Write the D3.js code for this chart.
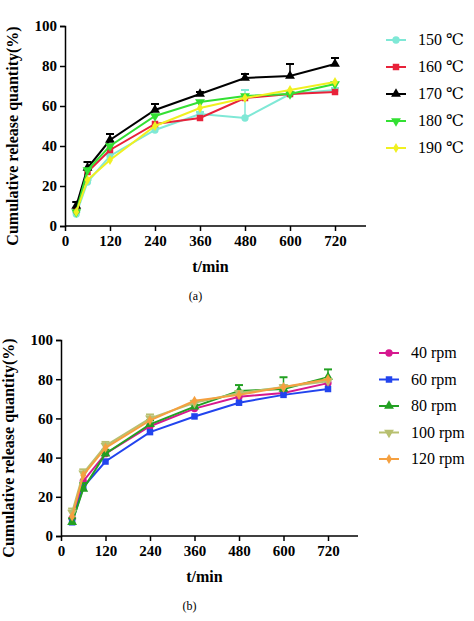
<!DOCTYPE html>
<html lang="en">
<head>
<meta charset="UTF-8">
<script src="https://d3js.org/d3.v7.min.js"></script>
<style>
  body { margin: 0; background: #fff; }
  svg, svg text { font-family: 'Liberation Serif', 'DejaVu Serif', serif !important; }
  .tick text { font-size: 15px; font-weight: bold; }
  .axis path, .axis line { stroke: #000; stroke-width: 1.5; }
</style>
</head>
<body>
<svg id="chart" width="474" height="621"></svg>
<script>
const times = [30, 60, 120, 240, 360, 480, 600, 720];
const xTicks = [0, 120, 240, 360, 480, 600, 720];
const yTicks = [0, 20, 40, 60, 80, 100];

const tempNames = ["150 ℃", "160 ℃", "170 ℃", "180 ℃", "190 ℃"];
const tempColors = ["#7fe8d6", "#e8223a", "#000000", "#33e033", "#f0f020"];
const tempShapes = ["circle", "square", "triangle", "down", "diamond"];
const temp150 = [6, 22, 35, 48, 56, 54, 66, 68];
const temp160 = [8, 27, 38, 51, 54, 64, 66, 67];
const temp170 = [10, 29, 43, 58, 66, 74, 75, 81];
const temp180 = [7, 28, 40, 55, 62, 65, 66, 71];
const temp190 = [7, 23, 33, 50, 59, 64, 68, 72];
const err150 = [1, 1, 1, 1, 1, 14, 1, 1];
const err170 = [2, 3, 3, 3, 1, 2, 6, 3];

const rpmNames = ["40 rpm", "60 rpm", "80 rpm", "100 rpm", "120 rpm"];
const rpmColors = ["#d6188f", "#2244ee", "#22a022", "#b8c070", "#f5a040"];
const rpmShapes = ["circle", "square", "triangle", "down", "diamond"];
const rpm40 = [9, 28, 42, 56, 65, 71, 73, 78];
const rpm60 = [7, 25, 38, 53, 61, 68, 72, 75];
const rpm80 = [7, 24, 42, 57, 66, 74, 75, 81];
const rpm100 = [12, 32, 46, 60, 68, 73, 76, 79];
const rpm120 = [10, 31, 45, 59, 69, 72, 76, 80];
const err80 = [2, 3, 2, 2, 1, 3, 6, 4];
const err100 = [2, 2, 2, 2, 1, 1, 1, 1];

const svg = d3.select("#chart");
const symType = { circle: d3.symbolCircle, square: d3.symbolSquare, triangle: d3.symbolTriangle, down: d3.symbolTriangle, diamond: d3.symbolDiamond };

function marker(g, shape, color, x, y) {
  g.append("path")
    .attr("d", d3.symbol().type(symType[shape]).size(shape === "diamond" ? 30 : 42)())
    .attr("transform", `translate(${x},${y})` + (shape === "down" ? " rotate(180)" : ""))
    .attr("fill", color);
}

function panel(opt) {
  const x = d3.scaleLinear().domain([0, 720]).range([opt.x0, opt.x720]);
  const y = d3.scaleLinear().domain([0, 100]).range([opt.y0, opt.y100]);
  const g = svg.append("g");

  g.append("g").attr("class", "axis").attr("transform", `translate(0,${opt.y0})`)
    .call(d3.axisBottom(x).tickValues(xTicks).tickSizeOuter(0).tickSize(5).tickPadding(4));
  g.select(".axis path").attr("d", `M${opt.x0},0H${opt.xEnd}`);
  g.append("g").attr("class", "axis").attr("transform", `translate(${opt.x0},0)`)
    .call(d3.axisLeft(y).tickValues(yTicks).tickSizeOuter(0).tickSize(5).tickPadding(3));

  g.append("text").attr("x", (opt.x0 + opt.xEnd) / 2 - 5).attr("y", opt.y0 + 46)
    .attr("text-anchor", "middle").attr("font-size", 16).attr("font-weight", "bold").text("t/min");
  g.append("text").attr("transform", `translate(${opt.x0 - 47},${(opt.y0 + opt.y100) / 2 + 10}) rotate(-90)`)
    .attr("text-anchor", "middle").attr("font-size", 16).attr("font-weight", "bold")
    .text("Cumulative release quantity(%)");
  g.append("text").attr("x", (opt.x0 + opt.xEnd) / 2 - 20).attr("y", opt.capY)
    .attr("text-anchor", "middle").attr("font-size", 12).text(opt.caption);

  const line = d3.line().x((d, i) => x(times[i])).y(d => y(d));
  opt.series.forEach((s, k) => {
    if (opt.errors[k]) {
      opt.errors[k].forEach((e, i) => {
        const px = x(times[i]), top = y(s[i] + e);
        g.append("line").attr("x1", px).attr("x2", px).attr("y1", y(s[i])).attr("y2", top)
          .attr("stroke", opt.colors[k]).attr("stroke-width", 1.5);
        g.append("line").attr("x1", px - 4).attr("x2", px + 4).attr("y1", top).attr("y2", top)
          .attr("stroke", opt.colors[k]).attr("stroke-width", 2);
      });
    }
    g.append("path").datum(s).attr("d", line).attr("fill", "none")
      .attr("stroke", opt.colors[k]).attr("stroke-width", 2);
    s.forEach((v, i) => marker(g, opt.shapes[k], opt.colors[k], x(times[i]), y(v)));

    const ly = opt.legY + k * opt.legStep;
    g.append("line").attr("x1", opt.legX).attr("x2", opt.legX + 20).attr("y1", ly).attr("y2", ly)
      .attr("stroke", opt.colors[k]).attr("stroke-width", 2);
    marker(g, opt.shapes[k], opt.colors[k], opt.legX + 10, ly);
    g.append("text").attr("x", opt.legX + 32).attr("y", ly + 5).attr("font-size", 16)
      .text(opt.names[k]);
  });
}

panel({
  x0: 65, x720: 335, xEnd: 366, y0: 226, y100: 26, capY: 300, caption: "(a)",
  series: [temp150, temp160, temp170, temp180, temp190],
  errors: [err150, null, err170, null, null],
  colors: tempColors, shapes: tempShapes, names: tempNames,
  legX: 386, legY: 40, legStep: 27
});

panel({
  x0: 61, x720: 328, xEnd: 358, y0: 536, y100: 340, capY: 610, caption: "(b)",
  series: [rpm40, rpm60, rpm80, rpm100, rpm120],
  errors: [null, null, err80, err100, null],
  colors: rpmColors, shapes: rpmShapes, names: rpmNames,
  legX: 379, legY: 353, legStep: 26.5
});
</script>
</body>
</html>
